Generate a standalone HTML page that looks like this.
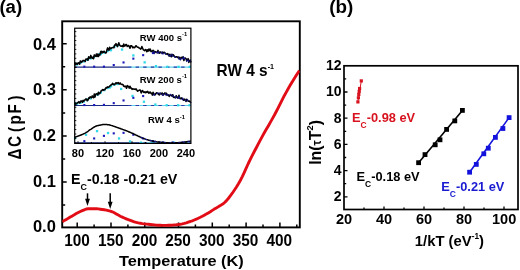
<!DOCTYPE html>
<html><head><meta charset="utf-8"><title>Figure</title>
<style>
html,body{margin:0;padding:0;background:#fff;}
body{width:520px;height:270px;overflow:hidden;}
svg{display:block;filter:blur(0.35px);}
</style></head>
<body>
<svg width="520" height="270" viewBox="0 0 520 270">
<rect width="520" height="270" fill="#fff"/>
<rect x="62.2" y="21.3" width="237.6" height="206.1" fill="none" stroke="#000" stroke-width="1.9"/>
<path d="M77.2 227.4V222.4M111 227.4V222.4M144.8 227.4V222.4M178.5 227.4V222.4M212.3 227.4V222.4M246.1 227.4V222.4M279.9 227.4V222.4M94.1 227.4V224.4M127.9 227.4V224.4M161.7 227.4V224.4M195.4 227.4V224.4M229.2 227.4V224.4M263 227.4V224.4M296.8 227.4V224.4M62.2 181.9H66.7M62.2 135.9H66.7M62.2 89.8H66.7M62.2 43.8H66.7M62.2 205H65.2M62.2 158.9H65.2M62.2 112.9H65.2M62.2 66.8H65.2" stroke="#000" stroke-width="1.5" fill="none"/>
<clipPath id="ca"><rect x="62.2" y="21.3" width="237.6" height="208.1"/></clipPath>
<polyline clip-path="url(#ca)" points="62.3,221.7 64.3,220.6 66.3,219.4 68.3,218.3 70.3,217.1 72.3,215.9 74.3,214.8 76.3,213.6 78.3,212.5 80.3,211.5 82.3,210.6 84.3,209.8 86.3,209 88.3,208.7 90.3,208.7 92.3,208.7 94.3,208.7 96.3,208.7 98.3,208.9 100.3,209.2 102.3,209.5 104.3,209.8 106.3,210.1 108.3,210.6 110.3,211.1 112.3,211.8 114.3,212.8 116.3,213.9 118.3,215.1 120.3,216.2 122.3,217.1 124.3,218 126.3,218.9 128.3,219.7 130.3,220.4 132.3,221.1 134.3,221.8 136.3,222.4 138.3,222.9 140.3,223.2 142.3,223.6 144.3,223.9 146.3,224.1 148.3,224.3 150.3,224.5 152.3,224.7 154.3,224.9 156.3,225.1 158.3,225.2 160.3,225.3 162.3,225.4 164.3,225.4 166.3,225.4 168.3,225.3 170.3,225.2 172.3,225.1 174.3,224.9 176.3,224.8 178.3,224.6 180.3,224.3 182.3,223.9 184.3,223.4 186.3,222.8 188.3,222.1 190.3,221.5 192.3,220.8 194.3,220 196.3,219.2 198.3,218.2 200.3,217.3 202.3,216.3 204.3,215.2 206.3,214.1 208.3,212.9 210.3,211.7 212.3,210.4 214.3,209.1 216.3,207.9 218.3,206.8 220.3,205.6 222.3,204.3 224.3,202.8 226.3,200.9 228.3,198.5 230.3,195.9 232.3,193.2 234.3,190.3 236.3,187.3 238.3,184 240.3,180.5 242.3,176.6 244.3,172.3 246.3,167.9 248.3,163.5 250.3,159.4 252.3,155.4 254.3,151.5 256.3,147.7 258.3,143.9 260.3,140.1 262.3,136.4 264.3,132.8 266.3,129.3 268.3,125.9 270.3,122.4 272.3,118.9 274.3,115.3 276.3,111.5 278.3,107.6 280.3,103.6 282.3,99.6 284.3,95.7 286.3,92.1 288.3,88.5 290.3,85.1 292.3,81.7 294.3,78.5 296.3,75.3 298.3,72.2 299.4,70.6" fill="none" stroke="#e20c16" stroke-width="2.9" stroke-linejoin="round"/>
<text transform="translate(77.1 246.2) scale(0.96 1.0)" font-family='"Liberation Sans", sans-serif' font-weight="700" font-size="16.0" text-anchor="middle" fill="#000">100</text>
<text transform="translate(110.8 246.2) scale(0.96 1.0)" font-family='"Liberation Sans", sans-serif' font-weight="700" font-size="16.0" text-anchor="middle" fill="#000">150</text>
<text transform="translate(144.5 246.2) scale(0.96 1.0)" font-family='"Liberation Sans", sans-serif' font-weight="700" font-size="16.0" text-anchor="middle" fill="#000">200</text>
<text transform="translate(178.1 246.2) scale(0.96 1.0)" font-family='"Liberation Sans", sans-serif' font-weight="700" font-size="16.0" text-anchor="middle" fill="#000">250</text>
<text transform="translate(211.8 246.2) scale(0.96 1.0)" font-family='"Liberation Sans", sans-serif' font-weight="700" font-size="16.0" text-anchor="middle" fill="#000">300</text>
<text transform="translate(245.5 246.2) scale(0.96 1.0)" font-family='"Liberation Sans", sans-serif' font-weight="700" font-size="16.0" text-anchor="middle" fill="#000">350</text>
<text transform="translate(279.2 246.2) scale(0.96 1.0)" font-family='"Liberation Sans", sans-serif' font-weight="700" font-size="16.0" text-anchor="middle" fill="#000">400</text>
<text transform="translate(55.9 232.4) scale(0.95 1.0)" font-family='"Liberation Sans", sans-serif' font-weight="700" font-size="17.4" text-anchor="end" fill="#000">0.0</text>
<text transform="translate(55.9 186.7) scale(0.95 1.0)" font-family='"Liberation Sans", sans-serif' font-weight="700" font-size="17.4" text-anchor="end" fill="#000">0.1</text>
<text transform="translate(55.9 141) scale(0.95 1.0)" font-family='"Liberation Sans", sans-serif' font-weight="700" font-size="17.4" text-anchor="end" fill="#000">0.2</text>
<text transform="translate(55.9 95.4) scale(0.95 1.0)" font-family='"Liberation Sans", sans-serif' font-weight="700" font-size="17.4" text-anchor="end" fill="#000">0.3</text>
<text transform="translate(55.9 49.7) scale(0.95 1.0)" font-family='"Liberation Sans", sans-serif' font-weight="700" font-size="17.4" text-anchor="end" fill="#000">0.4</text>
<text transform="translate(-0.6 12.8) scale(1.06 1.0)" font-family='"Liberation Sans", sans-serif' font-weight="700" font-size="17.6" text-anchor="start" fill="#000">(a)</text>
<text transform="translate(329.2 12.8) scale(1.07 1.0)" font-family='"Liberation Sans", sans-serif' font-weight="700" font-size="17.6" text-anchor="start" fill="#000">(b)</text>
<text transform="translate(118.9 265.9) scale(1.126 1.0)" font-family='"Liberation Sans", sans-serif' font-weight="700" font-size="14.5" text-anchor="start" fill="#000">Temperature (K)</text>
<text transform="translate(20.7 159.6) rotate(-90) scale(1.0 1.17)" font-family='"Liberation Sans", sans-serif' font-weight="700" font-size="15.3" text-anchor="start" fill="#000" letter-spacing="1.6">ΔC <tspan dx="-3.6">(</tspan><tspan dx="1">p</tspan>F<tspan dx="2">)</tspan></text>
<text transform="translate(216.6 76.3) scale(0.94 1.0)" font-family='"Liberation Sans", sans-serif' font-weight="700" font-size="16.4" text-anchor="start" fill="#000">RW 4 s<tspan font-size="7.6" dy="-7.6">-1</tspan></text>
<text transform="translate(71.0 183.8) scale(0.965 1.0)" font-family='"Liberation Sans", sans-serif' font-weight="700" font-size="14.8" text-anchor="start" fill="#000">E<tspan font-size="9.2" dy="6.4">C</tspan><tspan dy="-6.4">-0.18 -0.21 eV</tspan></text>
<path d="M87.5 193.3V202.0" stroke="#000" stroke-width="1.5" fill="none"/><path d="M85.1 198.8L87.5 206.0L89.9 198.8Z" fill="#000"/>
<path d="M110.2 193.3V204.9" stroke="#000" stroke-width="1.5" fill="none"/><path d="M107.8 201.70000000000002L110.2 208.9L112.60000000000001 201.70000000000002Z" fill="#000"/>
<path d="M74.7 67.1H128" stroke="#1a2a80" stroke-width="1.1"/>
<path d="M128 67.1H190.9" stroke="#5cd2ea" stroke-width="1.1"/>
<path d="M128 67.1H190.9" stroke="#2a3aa8" stroke-width="1.1" stroke-dasharray="3.4 4.2"/>
<rect x="75.9" y="63.3" width="2.3" height="2.3" fill="#30d8e8"/>
<rect x="79.3" y="61.8" width="2.3" height="2.3" fill="#30d8e8"/>
<rect x="82.7" y="60.3" width="2.3" height="2.3" fill="#30d8e8"/>
<rect x="86.1" y="58.8" width="2.3" height="2.3" fill="#30d8e8"/>
<rect x="89.5" y="57.3" width="2.3" height="2.3" fill="#30d8e8"/>
<rect x="92.9" y="55.8" width="2.3" height="2.3" fill="#30d8e8"/>
<rect x="96.3" y="54.4" width="2.3" height="2.3" fill="#30d8e8"/>
<rect x="99.7" y="52.9" width="2.3" height="2.3" fill="#30d8e8"/>
<rect x="103.1" y="51.4" width="2.3" height="2.3" fill="#30d8e8"/>
<rect x="106.5" y="49.9" width="2.3" height="2.3" fill="#30d8e8"/>
<rect x="109.9" y="48.3" width="2.3" height="2.3" fill="#30d8e8"/>
<rect x="113.3" y="45.5" width="2.3" height="2.3" fill="#30d8e8"/>
<rect x="116.7" y="44.3" width="2.3" height="2.3" fill="#30d8e8"/>
<rect x="75.7" y="62.6" width="2.3" height="2.3" fill="#30d8e8"/>
<rect x="87" y="57.7" width="2.3" height="2.3" fill="#30d8e8"/>
<rect x="98.3" y="53" width="2.3" height="2.3" fill="#30d8e8"/>
<rect x="109.6" y="49.1" width="2.3" height="2.3" fill="#30d8e8"/>
<rect x="120.9" y="48.4" width="2.3" height="2.3" fill="#30d8e8"/>
<rect x="132.2" y="54.3" width="2.3" height="2.3" fill="#30d8e8"/>
<rect x="143.5" y="61.2" width="2.3" height="2.3" fill="#30d8e8"/>
<rect x="154.8" y="65" width="2.3" height="2.3" fill="#30d8e8"/>
<rect x="166.1" y="65.7" width="2.3" height="2.3" fill="#30d8e8"/>
<rect x="177.4" y="65.7" width="2.3" height="2.3" fill="#30d8e8"/>
<rect x="188.7" y="65.7" width="2.3" height="2.3" fill="#30d8e8"/>
<rect x="83.3" y="65.6" width="2.1" height="2.1" fill="#1a1ab8"/>
<rect x="93.1" y="65.6" width="2.1" height="2.1" fill="#1a1ab8"/>
<rect x="102.9" y="65.6" width="2.1" height="2.1" fill="#1a1ab8"/>
<rect x="112.7" y="64" width="2.1" height="2.1" fill="#1a1ab8"/>
<rect x="122.5" y="61.4" width="2.1" height="2.1" fill="#1a1ab8"/>
<rect x="132.3" y="57.6" width="2.1" height="2.1" fill="#1a1ab8"/>
<rect x="142.1" y="54.1" width="2.1" height="2.1" fill="#1a1ab8"/>
<rect x="151.9" y="52" width="2.1" height="2.1" fill="#1a1ab8"/>
<rect x="161.7" y="52.3" width="2.1" height="2.1" fill="#1a1ab8"/>
<rect x="171.5" y="54.2" width="2.1" height="2.1" fill="#1a1ab8"/>
<rect x="181.3" y="57.2" width="2.1" height="2.1" fill="#1a1ab8"/>
<polyline points="74.7,62.8 75.4,64.8 76.1,63.9 76.8,63.2 77.5,64.2 78.2,63 78.9,62.7 79.6,64.3 80.3,61 81,61.2 81.7,62.2 82.4,61.4 83.1,60.3 83.8,60.8 84.5,60.5 85.2,61.5 85.9,59.1 86.6,59.2 87.3,58.8 88,60.3 88.7,56.7 89.4,58 90.1,58.2 90.8,55.4 91.5,57.3 92.2,58.4 92.9,57 93.6,58.7 94.3,54.9 95,56.1 95.7,56.2 96.4,54 97.1,56.5 97.8,54 98.5,56.4 99.2,54.6 99.9,54.9 100.6,51.8 101.3,51.2 102,53.1 102.7,51.5 103.4,52.3 104.1,51.2 104.8,52.2 105.5,52.9 106.2,52.7 106.9,50.1 107.6,47.9 108.3,49.6 109,50.2 109.7,47.3 110.4,48.7 111.1,48.4 111.8,47.8 112.5,47.7 113.2,47.3 113.9,47.8 114.6,45.1 115.3,45.2 116,43.6 116.7,45.1 117.4,46.6 118.1,44.7 118.8,42.7 119.5,44.9 120.2,45.6 120.9,46.2 121.6,46.3 122.3,45.7 123,46.8 123.7,44.1 124.4,46.1 125.1,45.8 125.8,44.5 126.5,44.5 127.2,46.4 127.9,45.9 128.6,45.5 129.3,46.6 130,48.3 130.7,45.8 131.4,45.7 132.1,46.3 132.8,47.8 133.5,47.1 134.2,47.7 134.9,47.5 135.6,46 136.3,45.8 137,46.9 137.7,47.2 138.4,47.2 139.1,48.1 139.8,48.3 140.5,49.1 141.2,48.7 141.9,46.5 142.6,48.2 143.3,49.8 144,50.1 144.7,50.7 145.4,49.6 146.1,49.7 146.8,51.7 147.5,49.8 148.2,51.1 148.9,49.1 149.6,50.6 150.3,49.1 151,51.5 151.7,51.5 152.4,51 153.1,50.3 153.8,51 154.5,53 155.2,51.6 155.9,51.9 156.6,52.4 157.3,52.8 158,50.4 158.7,52.7 159.4,53.3 160.1,51.9 160.8,52.5 161.5,52.9 162.2,52.1 162.9,52.5 163.6,52.7 164.3,52.2 165,53 165.7,54 166.4,53.9 167.1,54.2 167.8,53.6 168.5,55.1 169.2,56.1 169.9,54.2 170.6,55.9 171.3,56.8 172,54.5 172.7,55.9 173.4,54.8 174.1,56.1 174.8,56.9 175.5,57.3 176.2,56.7 176.9,56.7 177.6,57.5 178.3,57.1 179,58.7 179.7,57.3 180.4,59.4 181.1,58 181.8,57.3 182.5,57.2 183.2,56.8 183.9,60.5 184.6,58.3 185.3,58.1 186,58.6 186.7,60.9 187.4,59.8 188.1,58.6 188.8,62.4 189.5,60.6 190.2,60.2 190.9,62.4" fill="none" stroke="#000" stroke-width="1.55" stroke-linejoin="round"/>
<polyline points="153.8,51 154.5,53 155.2,51.6 155.9,51.9 156.6,52.4 157.3,52.8 158,50.4 158.7,52.7 159.4,53.3 160.1,51.9 160.8,52.5 161.5,52.9 162.2,52.1 162.9,52.5 163.6,52.7 164.3,52.2 165,53 165.7,54 166.4,53.9 167.1,54.2 167.8,53.6 168.5,55.1 169.2,56.1 169.9,54.2 170.6,55.9 171.3,56.8 172,54.5 172.7,55.9 173.4,54.8 174.1,56.1 174.8,56.9 175.5,57.3 176.2,56.7 176.9,56.7 177.6,57.5 178.3,57.1 179,58.7 179.7,57.3 180.4,59.4 181.1,58 181.8,57.3 182.5,57.2 183.2,56.8 183.9,60.5 184.6,58.3 185.3,58.1 186,58.6 186.7,60.9 187.4,59.8 188.1,58.6 188.8,62.4 189.5,60.6 190.2,60.2 190.9,62.4" fill="none" stroke="#1818b0" stroke-width="1.3" stroke-dasharray="2.2 2.6" opacity="0.75"/>
<text transform="translate(139.8 40.7) scale(0.975 1.0)" font-family='"Liberation Sans", sans-serif' font-weight="700" font-size="9.8" text-anchor="start" fill="#000">RW 400 s<tspan font-size="6.0" dy="-4.3">-1</tspan></text>
<path d="M74.7 105.5H128" stroke="#1a2a80" stroke-width="1.1"/>
<path d="M128 105.5H190.9" stroke="#5cd2ea" stroke-width="1.1"/>
<path d="M128 105.5H190.9" stroke="#2a3aa8" stroke-width="1.1" stroke-dasharray="3.4 4.2"/>
<rect x="75.9" y="102.6" width="2.3" height="2.3" fill="#30d8e8"/>
<rect x="79.3" y="101.7" width="2.3" height="2.3" fill="#30d8e8"/>
<rect x="82.7" y="100.4" width="2.3" height="2.3" fill="#30d8e8"/>
<rect x="86.1" y="98.9" width="2.3" height="2.3" fill="#30d8e8"/>
<rect x="89.5" y="97.3" width="2.3" height="2.3" fill="#30d8e8"/>
<rect x="92.9" y="95.6" width="2.3" height="2.3" fill="#30d8e8"/>
<rect x="96.3" y="93.5" width="2.3" height="2.3" fill="#30d8e8"/>
<rect x="99.7" y="91.3" width="2.3" height="2.3" fill="#30d8e8"/>
<rect x="103.1" y="89" width="2.3" height="2.3" fill="#30d8e8"/>
<rect x="106.5" y="86.9" width="2.3" height="2.3" fill="#30d8e8"/>
<rect x="109.9" y="85.1" width="2.3" height="2.3" fill="#30d8e8"/>
<rect x="113.3" y="83.6" width="2.3" height="2.3" fill="#30d8e8"/>
<rect x="116.7" y="82.8" width="2.3" height="2.3" fill="#30d8e8"/>
<rect x="74.4" y="102.1" width="2.3" height="2.3" fill="#30d8e8"/>
<rect x="85.8" y="98.4" width="2.3" height="2.3" fill="#30d8e8"/>
<rect x="97.2" y="92.5" width="2.3" height="2.3" fill="#30d8e8"/>
<rect x="108.6" y="86.4" width="2.3" height="2.3" fill="#30d8e8"/>
<rect x="120" y="87.8" width="2.3" height="2.3" fill="#30d8e8"/>
<rect x="131.4" y="94.8" width="2.3" height="2.3" fill="#30d8e8"/>
<rect x="142.8" y="100.6" width="2.3" height="2.3" fill="#30d8e8"/>
<rect x="154.2" y="103.4" width="2.3" height="2.3" fill="#30d8e8"/>
<rect x="165.6" y="104.1" width="2.3" height="2.3" fill="#30d8e8"/>
<rect x="177" y="104.1" width="2.3" height="2.3" fill="#30d8e8"/>
<rect x="188.4" y="104.1" width="2.3" height="2.3" fill="#30d8e8"/>
<rect x="83.3" y="104" width="2.1" height="2.1" fill="#1a1ab8"/>
<rect x="93.1" y="104" width="2.1" height="2.1" fill="#1a1ab8"/>
<rect x="102.9" y="103.8" width="2.1" height="2.1" fill="#1a1ab8"/>
<rect x="112.7" y="102.1" width="2.1" height="2.1" fill="#1a1ab8"/>
<rect x="122.5" y="99.4" width="2.1" height="2.1" fill="#1a1ab8"/>
<rect x="132.3" y="96.8" width="2.1" height="2.1" fill="#1a1ab8"/>
<rect x="142.1" y="95" width="2.1" height="2.1" fill="#1a1ab8"/>
<rect x="151.9" y="93.4" width="2.1" height="2.1" fill="#1a1ab8"/>
<rect x="161.7" y="93.4" width="2.1" height="2.1" fill="#1a1ab8"/>
<rect x="171.5" y="94.8" width="2.1" height="2.1" fill="#1a1ab8"/>
<rect x="181.3" y="97.8" width="2.1" height="2.1" fill="#1a1ab8"/>
<polyline points="74.7,102.9 75.4,104.2 76.1,103.8 76.8,103.6 77.5,102.6 78.2,102.7 78.9,101.6 79.6,103 80.3,102.1 81,100.9 81.7,101 82.4,102.4 83.1,100.4 83.8,101.1 84.5,100.1 85.2,99.9 85.9,98.8 86.6,99.4 87.3,100.8 88,100 88.7,97.9 89.4,98.4 90.1,96.8 90.8,97.2 91.5,97.8 92.2,95.9 92.9,97.1 93.6,97.8 94.3,94 95,97 95.7,94.4 96.4,93.7 97.1,93.9 97.8,95 98.5,92.2 99.2,93.8 99.9,93.3 100.6,92 101.3,90.6 102,90.5 102.7,89.6 103.4,90.2 104.1,89.5 104.8,89.9 105.5,88.7 106.2,87.5 106.9,87.9 107.6,86.8 108.3,87.3 109,86.9 109.7,86 110.4,85.8 111.1,84.8 111.8,84.8 112.5,83.2 113.2,84.5 113.9,84.3 114.6,84.7 115.3,83.5 116,82.7 116.7,83.7 117.4,83.1 118.1,82.6 118.8,83.5 119.5,84 120.2,83 120.9,84.1 121.6,84.4 122.3,84.3 123,84.7 123.7,86.2 124.4,86.6 125.1,86.1 125.8,86.5 126.5,88.2 127.2,85.6 127.9,86.7 128.6,86.3 129.3,88.1 130,86.2 130.7,88.1 131.4,88 132.1,89.4 132.8,88.7 133.5,89 134.2,89.2 134.9,89 135.6,89.5 136.3,89 137,90.5 137.7,91.2 138.4,90.6 139.1,90.3 139.8,90 140.5,90.5 141.2,92.9 141.9,91.3 142.6,90.5 143.3,91.9 144,92.5 144.7,91.9 145.4,92.7 146.1,91.8 146.8,92.5 147.5,91.3 148.2,92.2 148.9,93.3 149.6,92.2 150.3,92 151,93.4 151.7,93.3 152.4,95 153.1,92.3 153.8,93.6 154.5,94.9 155.2,94.7 155.9,93.5 156.6,92.7 157.3,93.5 158,93.2 158.7,94.6 159.4,94.9 160.1,93.1 160.8,93.5 161.5,94 162.2,93 162.9,95 163.6,94.6 164.3,93.5 165,92.9 165.7,94.5 166.4,93.2 167.1,95.3 167.8,94.6 168.5,95.2 169.2,96.5 169.9,95.1 170.6,94.6 171.3,95.7 172,95.8 172.7,94.7 173.4,97.1 174.1,97.5 174.8,97 175.5,97.7 176.2,95.7 176.9,96.8 177.6,98 178.3,98 179,95.3 179.7,98.4 180.4,98.8 181.1,98.1 181.8,98 182.5,98.6 183.2,99.8 183.9,100.3 184.6,99.1 185.3,99.9 186,101.5 186.7,99.3 187.4,99.9 188.1,101 188.8,101.3 189.5,101.1 190.2,102.1 190.9,102.9" fill="none" stroke="#000" stroke-width="1.55" stroke-linejoin="round"/>
<polyline points="153.8,93.6 154.5,94.9 155.2,94.7 155.9,93.5 156.6,92.7 157.3,93.5 158,93.2 158.7,94.6 159.4,94.9 160.1,93.1 160.8,93.5 161.5,94 162.2,93 162.9,95 163.6,94.6 164.3,93.5 165,92.9 165.7,94.5 166.4,93.2 167.1,95.3 167.8,94.6 168.5,95.2 169.2,96.5 169.9,95.1 170.6,94.6 171.3,95.7 172,95.8 172.7,94.7 173.4,97.1 174.1,97.5 174.8,97 175.5,97.7 176.2,95.7 176.9,96.8 177.6,98 178.3,98 179,95.3 179.7,98.4 180.4,98.8 181.1,98.1 181.8,98 182.5,98.6 183.2,99.8 183.9,100.3 184.6,99.1 185.3,99.9 186,101.5 186.7,99.3 187.4,99.9 188.1,101 188.8,101.3 189.5,101.1 190.2,102.1 190.9,102.9" fill="none" stroke="#1818b0" stroke-width="1.3" stroke-dasharray="2.2 2.6" opacity="0.75"/>
<text transform="translate(139.7 82.69999999999999) scale(0.975 1.0)" font-family='"Liberation Sans", sans-serif' font-weight="700" font-size="9.8" text-anchor="start" fill="#000">RW 200 s<tspan font-size="6.0" dy="-4.3">-1</tspan></text>
<path d="M74.7 142.9H136" stroke="#1a2a80" stroke-width="1.1"/>
<path d="M136 142.9H190.9" stroke="#5cd2ea" stroke-width="1.1"/>
<path d="M136 142.9H190.9" stroke="#2a3aa8" stroke-width="1.1" stroke-dasharray="3.4 4.2"/>
<rect x="73.9" y="137" width="2.3" height="2.3" fill="#30d8e8"/>
<rect x="84.9" y="133.6" width="2.3" height="2.3" fill="#30d8e8"/>
<rect x="95.9" y="130" width="2.3" height="2.3" fill="#30d8e8"/>
<rect x="106.9" y="131.9" width="2.3" height="2.3" fill="#30d8e8"/>
<rect x="117.9" y="137.3" width="2.3" height="2.3" fill="#30d8e8"/>
<rect x="128.9" y="140.3" width="2.3" height="2.3" fill="#30d8e8"/>
<rect x="139.9" y="141.5" width="2.3" height="2.3" fill="#30d8e8"/>
<rect x="150.9" y="141.5" width="2.3" height="2.3" fill="#30d8e8"/>
<rect x="161.9" y="141.5" width="2.3" height="2.3" fill="#30d8e8"/>
<rect x="172.9" y="141.5" width="2.3" height="2.3" fill="#30d8e8"/>
<rect x="183.9" y="141.5" width="2.3" height="2.3" fill="#30d8e8"/>
<rect x="83.3" y="140.1" width="2.1" height="2.1" fill="#1a1ab8"/>
<rect x="93.1" y="137.4" width="2.1" height="2.1" fill="#1a1ab8"/>
<rect x="102.9" y="134.8" width="2.1" height="2.1" fill="#1a1ab8"/>
<rect x="112.7" y="132.3" width="2.1" height="2.1" fill="#1a1ab8"/>
<rect x="122.5" y="131.8" width="2.1" height="2.1" fill="#1a1ab8"/>
<rect x="132.3" y="133.7" width="2.1" height="2.1" fill="#1a1ab8"/>
<rect x="142.1" y="137.4" width="2.1" height="2.1" fill="#1a1ab8"/>
<rect x="151.9" y="140.1" width="2.1" height="2.1" fill="#1a1ab8"/>
<rect x="161.7" y="141.4" width="2.1" height="2.1" fill="#1a1ab8"/>
<rect x="171.5" y="141.4" width="2.1" height="2.1" fill="#1a1ab8"/>
<rect x="181.3" y="141.4" width="2.1" height="2.1" fill="#1a1ab8"/>
<polyline points="74.7,137.2 75.4,137 76.1,136.8 76.8,136.6 77.5,136.3 78.2,136.1 78.9,135.8 79.6,135.5 80.3,135.3 81,135 81.7,134.7 82.4,134.4 83.1,134.1 83.8,133.8 84.5,133.4 85.2,133.1 85.9,132.7 86.6,132.2 87.3,131.8 88,131.3 88.7,130.7 89.4,130.2 90.1,129.7 90.8,129.3 91.5,128.8 92.2,128.3 92.9,127.8 93.6,127.4 94.3,127 95,126.6 95.7,126.3 96.4,126 97.1,125.8 97.8,125.6 98.5,125.5 99.2,125.3 99.9,125.2 100.6,125 101.3,124.9 102,124.7 102.7,124.6 103.4,124.6 104.1,124.6 104.8,124.6 105.5,124.6 106.2,124.6 106.9,124.6 107.6,124.7 108.3,124.7 109,124.8 109.7,125 110.4,125.2 111.1,125.4 111.8,125.6 112.5,125.8 113.2,126.1 113.9,126.3 114.6,126.6 115.3,126.8 116,127.1 116.7,127.3 117.4,127.6 118.1,127.8 118.8,128.1 119.5,128.3 120.2,128.5 120.9,128.8 121.6,129.1 122.3,129.3 123,129.6 123.7,129.8 124.4,130.1 125.1,130.3 125.8,130.6 126.5,130.8 127.2,131.1 127.9,131.4 128.6,131.7 129.3,132 130,132.3 130.7,132.6 131.4,132.9 132.1,133.2 132.8,133.5 133.5,133.8 134.2,134.2 134.9,134.5 135.6,134.9 136.3,135.2 137,135.5 137.7,135.9 138.4,136.2 139.1,136.5 139.8,136.8 140.5,137.2 141.2,137.5 141.9,137.8 142.6,138.1 143.3,138.4 144,138.6 144.7,138.9 145.4,139.1 146.1,139.4 146.8,139.6 147.5,139.8 148.2,140 148.9,140.2 149.6,140.4 150.3,140.5 151,140.7 151.7,140.9 152.4,141 153.1,141.2 153.8,141.3 154.5,141.4 155.2,141.5 155.9,141.6 156.6,141.8 157.3,141.9 158,142 158.7,142.1 159.4,142.1 160.1,142.2 160.8,142.3 161.5,142.4 162.2,142.4 162.9,142.5 163.6,142.5 164.3,142.6 165,142.6 165.7,142.7 166.4,142.7 167.1,142.8 167.8,142.8 168.5,142.8 169.2,142.8 169.9,142.9 170.6,142.9 171.3,142.9 172,142.9 172.7,142.9 173.4,142.9 174.1,142.9 174.8,142.8 175.5,142.8 176.2,142.8 176.9,142.8 177.6,142.7 178.3,142.7 179,142.6 179.7,142.6 180.4,142.5 181.1,142.5 181.8,142.4 182.5,142.4 183.2,142.3 183.9,142.2 184.6,142.1 185.3,142 186,141.9 186.7,141.8 187.4,141.7 188.1,141.5 188.8,141.4 189.5,141.3 190.2,141.1 190.9,140.9" fill="none" stroke="#000" stroke-width="1.5" stroke-linejoin="round"/>
<polyline points="140.5,137.2 141.2,137.5 141.9,137.8 142.6,138.1 143.3,138.4 144,138.6 144.7,138.9 145.4,139.1 146.1,139.4 146.8,139.6 147.5,139.8 148.2,140 148.9,140.2 149.6,140.4 150.3,140.5 151,140.7 151.7,140.9 152.4,141 153.1,141.2 153.8,141.3 154.5,141.4 155.2,141.5 155.9,141.6 156.6,141.8 157.3,141.9 158,142 158.7,142.1 159.4,142.1 160.1,142.2 160.8,142.3 161.5,142.4 162.2,142.4 162.9,142.5 163.6,142.5 164.3,142.6 165,142.6 165.7,142.7 166.4,142.7 167.1,142.8 167.8,142.8 168.5,142.8 169.2,142.8 169.9,142.9 170.6,142.9 171.3,142.9 172.7,142.9 173.4,142.9 174.1,142.9 174.8,142.8 175.5,142.8 176.2,142.8 176.9,142.8 177.6,142.7 178.3,142.7 179,142.6 179.7,142.6 180.4,142.5 181.1,142.5 181.8,142.4 182.5,142.4 183.2,142.3 183.9,142.2 184.6,142.1 185.3,142 186,141.9 186.7,141.8 187.4,141.7 188.1,141.5 188.8,141.4 189.5,141.3 190.2,141.1 190.9,140.9" fill="none" stroke="#1818b0" stroke-width="1.3" stroke-dasharray="2.2 2.6" opacity="0.75"/>
<text transform="translate(148.1 123.1) scale(0.975 1.0)" font-family='"Liberation Sans", sans-serif' font-weight="700" font-size="9.8" text-anchor="start" fill="#000">RW 4 s<tspan font-size="6.0" dy="-4.3">-1</tspan></text>
<rect x="74.7" y="28.2" width="116.2" height="115.2" fill="none" stroke="#000" stroke-width="1.2"/>
<path d="M74.7 67.2H76.7M74.7 105.2H76.7" stroke="#000" stroke-width="1"/>
<path d="M78 143.4V141.20000000000002M91.5 143.4V142.0M105 143.4V141.20000000000002M118.5 143.4V142.0M132 143.4V141.20000000000002M145.5 143.4V142.0M159 143.4V141.20000000000002M172.5 143.4V142.0M186 143.4V141.20000000000002M74.7 31.6H76.3M74.7 36.1H76.3M74.7 40.5H76.3M74.7 45H76.3M74.7 49.4H76.3M74.7 53.9H76.3M74.7 58.3H76.3M74.7 62.8H76.3M74.7 67.2H76.3M74.7 71.7H76.3M74.7 76.1H76.3M74.7 80.6H76.3M74.7 85H76.3M74.7 89.5H76.3M74.7 93.9H76.3M74.7 98.4H76.3M74.7 102.8H76.3M74.7 107.3H76.3M74.7 111.7H76.3M74.7 116.2H76.3M74.7 120.6H76.3M74.7 125.1H76.3M74.7 129.5H76.3M74.7 134H76.3M74.7 138.4H76.3M74.7 142.9H76.3" stroke="#000" stroke-width="0.9" fill="none"/>
<text transform="translate(77.9 156.5)" font-family='"Liberation Sans", sans-serif' font-weight="700" font-size="11.0" text-anchor="middle" fill="#000">80</text>
<text transform="translate(104.9 156.5)" font-family='"Liberation Sans", sans-serif' font-weight="700" font-size="11.0" text-anchor="middle" fill="#000">120</text>
<text transform="translate(131.9 156.5)" font-family='"Liberation Sans", sans-serif' font-weight="700" font-size="11.0" text-anchor="middle" fill="#000">160</text>
<text transform="translate(158.9 156.5)" font-family='"Liberation Sans", sans-serif' font-weight="700" font-size="11.0" text-anchor="middle" fill="#000">200</text>
<text transform="translate(185.9 156.5)" font-family='"Liberation Sans", sans-serif' font-weight="700" font-size="11.0" text-anchor="middle" fill="#000">240</text>
<rect x="344.0" y="65.8" width="174.0" height="143.7" fill="none" stroke="#000" stroke-width="1.7"/>
<path d="M384 209.5V206.5M424 209.5V206.5M464 209.5V206.5M504 209.5V206.5M364 209.5V207.5M404 209.5V207.5M444 209.5V207.5M484 209.5V207.5M344.0 196.8H347.5M344.0 170.6H347.5M344.0 144.4H347.5M344.0 118.2H347.5M344.0 92H347.5M344.0 183.7H346.2M344.0 157.5H346.2M344.0 131.3H346.2M344.0 105.1H346.2M344.0 78.9H346.2" stroke="#000" stroke-width="1.3" fill="none"/>
<text transform="translate(344.1 224.2) scale(0.99 1.0)" font-family='"Liberation Sans", sans-serif' font-weight="700" font-size="14.7" text-anchor="middle" fill="#000">20</text>
<text transform="translate(384.1 224.2) scale(0.99 1.0)" font-family='"Liberation Sans", sans-serif' font-weight="700" font-size="14.7" text-anchor="middle" fill="#000">40</text>
<text transform="translate(424.1 224.2) scale(0.99 1.0)" font-family='"Liberation Sans", sans-serif' font-weight="700" font-size="14.7" text-anchor="middle" fill="#000">60</text>
<text transform="translate(464.1 224.2) scale(0.99 1.0)" font-family='"Liberation Sans", sans-serif' font-weight="700" font-size="14.7" text-anchor="middle" fill="#000">80</text>
<text transform="translate(504.1 224.2) scale(0.99 1.0)" font-family='"Liberation Sans", sans-serif' font-weight="700" font-size="14.7" text-anchor="middle" fill="#000">100</text>
<text transform="translate(341.6 201.1)" font-family='"Liberation Sans", sans-serif' font-weight="700" font-size="14.0" text-anchor="end" fill="#000">2</text>
<text transform="translate(341.6 174.9)" font-family='"Liberation Sans", sans-serif' font-weight="700" font-size="14.0" text-anchor="end" fill="#000">4</text>
<text transform="translate(341.6 148.7)" font-family='"Liberation Sans", sans-serif' font-weight="700" font-size="14.0" text-anchor="end" fill="#000">6</text>
<text transform="translate(341.6 122.5)" font-family='"Liberation Sans", sans-serif' font-weight="700" font-size="14.0" text-anchor="end" fill="#000">8</text>
<text transform="translate(341.6 96.3)" font-family='"Liberation Sans", sans-serif' font-weight="700" font-size="14.0" text-anchor="end" fill="#000">10</text>
<text transform="translate(341.6 70.1)" font-family='"Liberation Sans", sans-serif' font-weight="700" font-size="14.0" text-anchor="end" fill="#000">12</text>
<text transform="translate(414.8 246.1) scale(1.01 1.0)" font-family='"Liberation Sans", sans-serif' font-weight="700" font-size="14.7" text-anchor="start" fill="#000">1/kT (eV<tspan font-size="8.2" dy="-7.6">-1</tspan><tspan dy="7.6">)</tspan></text>
<text transform="translate(321.4 164.8) rotate(-90) scale(1.085 1.1)" font-family='"Liberation Sans", sans-serif' font-weight="700" font-size="14.6" text-anchor="start" fill="#000">ln(<tspan font-size="11">τ</tspan>T<tspan font-size="8.5" dy="-7.2">2</tspan><tspan dy="7.2">)</tspan></text>
<text transform="translate(352.0 122.1) scale(1.01 1.0)" font-family='"Liberation Sans", sans-serif' font-weight="700" font-size="12.7" text-anchor="start" fill="#d8121e">E<tspan font-size="8.4" dy="6.3">C</tspan><tspan dy="-6.3">-0.98 eV</tspan></text>
<text transform="translate(356.5 181.1) scale(1.01 1.0)" font-family='"Liberation Sans", sans-serif' font-weight="700" font-size="12.7" text-anchor="start" fill="#000">E<tspan font-size="8.4" dy="6.3">C</tspan><tspan dy="-6.3">-0.18 eV</tspan></text>
<text transform="translate(441.3 191.0) scale(1.01 1.0)" font-family='"Liberation Sans", sans-serif' font-weight="700" font-size="12.7" text-anchor="start" fill="#1a1ad2">E<tspan font-size="8.4" dy="6.3">C</tspan><tspan dy="-6.3">-0.21 eV</tspan></text>
<path d="M361.3 80.9L357.9 101.9" stroke="#d8121e" stroke-width="1.0" fill="none"/><rect x="359.7" y="79.3" width="3.2" height="3.2" fill="#d8121e"/><rect x="358" y="86.9" width="3.2" height="3.2" fill="#d8121e"/><rect x="357.6" y="89.8" width="3.2" height="3.2" fill="#d8121e"/><rect x="357.2" y="92.8" width="3.2" height="3.2" fill="#d8121e"/><rect x="356.8" y="96.2" width="3.2" height="3.2" fill="#d8121e"/><rect x="356.3" y="100.3" width="3.2" height="3.2" fill="#d8121e"/>
<path d="M418.6 162.7L462.4 110.4" stroke="#000" stroke-width="1.6" fill="none"/><rect x="416.2" y="160.3" width="4.8" height="4.8" fill="#000"/><rect x="422.6" y="152.2" width="4.8" height="4.8" fill="#000"/><rect x="432.8" y="142.4" width="4.8" height="4.8" fill="#000"/><rect x="437.6" y="137.4" width="4.8" height="4.8" fill="#000"/><rect x="444.2" y="127" width="4.8" height="4.8" fill="#000"/><rect x="452.4" y="118.5" width="4.8" height="4.8" fill="#000"/><rect x="460" y="108" width="4.8" height="4.8" fill="#000"/>
<path d="M469.6 172.2L509.1 117.6" stroke="#1212dc" stroke-width="1.6" fill="none"/><rect x="467.2" y="169.8" width="4.8" height="4.8" fill="#1212dc"/><rect x="473.9" y="162" width="4.8" height="4.8" fill="#1212dc"/><rect x="481.4" y="151.4" width="4.8" height="4.8" fill="#1212dc"/><rect x="485.9" y="145.8" width="4.8" height="4.8" fill="#1212dc"/><rect x="493" y="135" width="4.8" height="4.8" fill="#1212dc"/><rect x="500.5" y="126.1" width="4.8" height="4.8" fill="#1212dc"/><rect x="506.7" y="115.2" width="4.8" height="4.8" fill="#1212dc"/>
</svg>
</body></html>
